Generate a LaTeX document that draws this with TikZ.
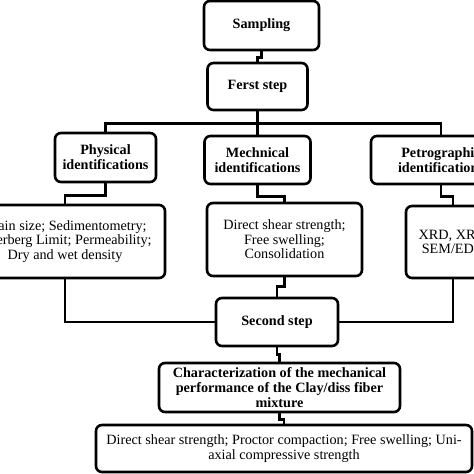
\documentclass[tikz,border=0pt]{standalone}
\usepackage{fontspec}
\setmainfont{Liberation Serif}
\usetikzlibrary{positioning}

\begin{document}
\begin{tikzpicture}[x=1pt, y=-1pt,
    box/.style={draw, line width=2.6pt, rounded corners=6pt, align=center, inner sep=1pt,
        font=\fontsize{14.2}{14.6}\selectfont},
    head/.style={box, font=\fontsize{14.2}{15}\selectfont\bfseries},
    link/.style={line width=2.6pt}]
    \clip (0, 0) rectangle (474, 474);

    % Sampling
    \node[head, minimum width=115, minimum height=49] (samp) at (261.5, 25.5) {Sampling};

    % First step
    \node[head, minimum width=100, minimum height=47] (first) at (257.5, 86.5) {Ferst step};

    % Identifications
    \node[head, minimum width=101, minimum height=49] (phys) at (105.5, 157.5) {Physical\\identifications};
    \node[head, minimum width=106, minimum height=48] (mech) at (257.5, 160) {Mechnical\\identifications};
    \node[head, minimum width=140, minimum height=48] (petro) at (441, 160) {Petrographic\\identifications};

    % Tests
    \node[box, minimum width=200, minimum height=73] (physd) at (65, 241.5)
        {Grain size; Sedimentometry;\\Atterberg Limit; Permeability;\\Dry and wet density};
    \node[box, minimum width=155, minimum height=73] (mechd) at (284.5, 239.5)
        {Direct shear strength;\\Free swelling;\\Consolidation};
    \node[box, minimum width=94, minimum height=72] (petrd) at (453, 242)
        {XRD, XRF;\\SEM/EDX};

    % Second step
    \node[head, minimum width=122, minimum height=48] (second) at (277, 322) {Second step};

    % Mixture
    \node[head, minimum width=241, minimum height=49] (charac) at (279.5, 387.5)
        {Characterization of the mechanical\\performance of the Clay/diss fiber\\mixture};
    \node[box, minimum width=376, minimum height=47] (mixd) at (284, 448.5)
        {Direct shear strength; Proctor compaction; Free swelling; Uni-\\axial compressive strength};

    % Links
    \draw[link] (samp.south) -- ++(0, 6) -| (first.north);
    \draw[link] (first.south) -- ++(0, 12) coordinate (bus);
    \draw[link] (phys.north) |- (bus) -| (petro.north);
    \draw[link] (bus) -- (mech.north);
    \draw[link] (phys.south) -- ++(0, 12) -| (physd.north);
    \draw[link] (mech.south) -- ++(0, 11) -| (mechd.north);
    \draw[link] (petro.south) -- ++(0, 11) -| (petrd.north);
    \draw[link] (physd.south) |- (second.west);
    \draw[link] (petrd.south) |- (second.east);
    \draw[link] (mechd.south) -- ++(0, 9) -| (second.north);
    \draw[link] (second.south) -- ++(0, 7) -| (charac.north);
    \draw[link] (charac.south) -- ++(0, 6) -| (mixd.north);
\end{tikzpicture}
\end{document}
